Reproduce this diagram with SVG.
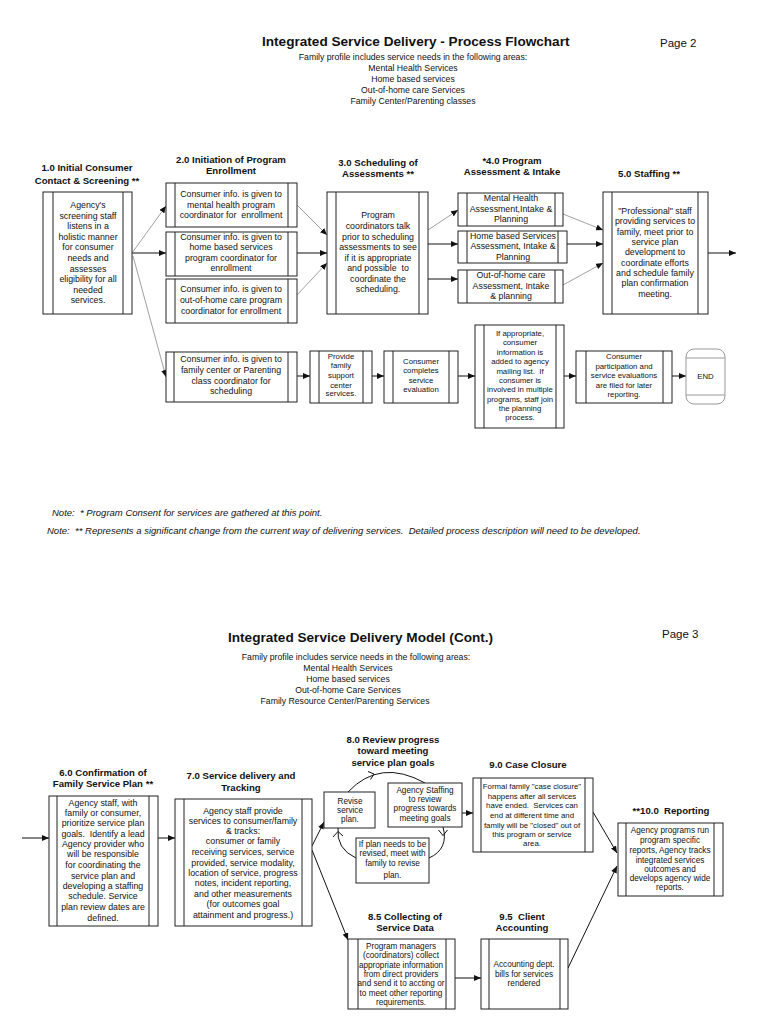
<svg xmlns="http://www.w3.org/2000/svg" width="768" height="1024" viewBox="0 0 768 1024">
<style>
text{font-family:"Liberation Sans",Arial,sans-serif;fill:#111}
.t{font-size:13.6px;font-weight:bold}
.pg{font-size:11.5px}
.sub{font-size:8.7px;text-anchor:middle}
.h{font-size:9.6px;font-weight:bold;text-anchor:middle}
.b{font-size:8.8px;text-anchor:middle}
.m{font-size:8.2px;text-anchor:middle}
.s{font-size:7.8px;text-anchor:middle}
.note{font-size:9.5px;font-style:italic}
.box{fill:#fff;stroke:#222;stroke-width:1}
.ln{fill:none;stroke:#222;stroke-width:1}
.c{fill:none;stroke:#111;stroke-width:1}
.g{fill:none;stroke:#888;stroke-width:0.8}
.end{fill:#fff;stroke:#999;stroke-width:1}
</style>
<defs>
<marker id="ah" markerWidth="7" markerHeight="6" refX="7" refY="3" orient="auto" markerUnits="userSpaceOnUse"><path d="M0,0 L7,3 L0,6 z" fill="#111"/></marker>
</defs>

<g id="header-p2">
<text class="t" x="262" y="46">Integrated Service Delivery - Process Flowchart</text>
<text class="pg" x="660" y="47">Page 2</text>
<text class="sub"><tspan x="413" y="60">Family profile includes service needs in the following areas:</tspan><tspan x="413" y="71">Mental Health Services</tspan><tspan x="413" y="82">Home based services</tspan><tspan x="413" y="93">Out-of-home care Services</tspan><tspan x="413" y="104">Family Center/Parenting classes</tspan></text>
</g>

<g id="connectors-p2">
<path class="c" d="M132,253H166" marker-end="url(#ah)"/>
<path class="g" d="M132,253L166,206" marker-end="url(#ah)"/>
<path class="g" d="M133,256L166,377" marker-end="url(#ah)"/>
<path class="g" d="M297,205L327,235" marker-end="url(#ah)"/>
<path class="c" d="M297,253H327" marker-end="url(#ah)"/>
<path class="g" d="M297,295L327,263" marker-end="url(#ah)"/>
<path class="g" d="M428,230L458,210" marker-end="url(#ah)"/>
<path class="c" d="M428,244H458" marker-end="url(#ah)"/>
<path class="c" d="M428,279H458" marker-end="url(#ah)"/>
<path class="g" d="M563,214L603,230" marker-end="url(#ah)"/>
<path class="c" d="M567,244H603" marker-end="url(#ah)"/>
<path class="g" d="M563,285L603,263" marker-end="url(#ah)"/>
<path class="c" d="M708,253H736" marker-end="url(#ah)"/>
<path class="c" d="M297,376H310" marker-end="url(#ah)"/>
<path class="c" d="M372,376H384" marker-end="url(#ah)"/>
<path class="c" d="M458,376H475" marker-end="url(#ah)"/>
<path class="c" d="M564,376H576" marker-end="url(#ah)"/>
<path class="c" d="M672,376H686" marker-end="url(#ah)"/>
</g>

<g id="n1">
<text class="h"><tspan x="87" y="170.5">1.0 Initial Consumer</tspan><tspan x="87" y="183.5">Contact &amp; Screening **</tspan></text>
<rect class="box" x="43" y="192" width="89" height="122"/>
<path class="ln" d="M53,192V314M123,192V314"/>
<text class="b"><tspan x="88" y="208">Agency's</tspan><tspan x="88" y="218.6">screening staff</tspan><tspan x="88" y="229.2">listens in a</tspan><tspan x="88" y="239.8">holistic manner</tspan><tspan x="88" y="250.4">for consumer</tspan><tspan x="88" y="261">needs and</tspan><tspan x="88" y="271.6">assesses</tspan><tspan x="88" y="282.2">eligibility for all</tspan><tspan x="88" y="292.8">needed</tspan><tspan x="88" y="303.4">services.</tspan></text>
</g>

<g id="n2">
<text class="h"><tspan x="231" y="162.5">2.0 Initiation of Program</tspan><tspan x="231" y="174">Enrollment</tspan></text>
</g>
<g id="n2a">
<rect class="box" x="166" y="183" width="131" height="44"/>
<path class="ln" d="M175,183V227M288,183V227"/>
<text class="b" xml:space="preserve"><tspan x="231" y="197">Consumer info. is given to</tspan><tspan x="231" y="207.5">mental health program</tspan><tspan x="231" y="218">coordinator for  enrollment</tspan></text>
</g>
<g id="n2b">
<rect class="box" x="166" y="232" width="131" height="44"/>
<path class="ln" d="M175,232V276M288,232V276"/>
<text class="b"><tspan x="231" y="240">Consumer info. is given to</tspan><tspan x="231" y="250.3">home based services</tspan><tspan x="231" y="260.7">program coordinator for</tspan><tspan x="231" y="271">enrollment</tspan></text>
</g>
<g id="n2c">
<rect class="box" x="166" y="279" width="131" height="44"/>
<path class="ln" d="M175,279V323M288,279V323"/>
<text class="b"><tspan x="231" y="292">Consumer info. is given to</tspan><tspan x="231" y="303">out-of-home care program</tspan><tspan x="231" y="313.7">coordinator for enrollment</tspan></text>
</g>

<g id="n3">
<text class="h"><tspan x="378" y="165.5">3.0 Scheduling of</tspan><tspan x="378" y="177">Assessments **</tspan></text>
<rect class="box" x="327" y="192" width="101" height="122"/>
<path class="ln" d="M336,192V314M419,192V314"/>
<text class="b" xml:space="preserve"><tspan x="378" y="218">Program</tspan><tspan x="378" y="229">coordinators talk</tspan><tspan x="378" y="239.7">prior to scheduling</tspan><tspan x="378" y="250.3">assessments to see</tspan><tspan x="378" y="261">if it is appropriate</tspan><tspan x="378" y="271.3">and possible  to</tspan><tspan x="378" y="281.7">coordinate the</tspan><tspan x="378" y="292.3">scheduling.</tspan></text>
</g>

<g id="n4">
<text class="h"><tspan x="512" y="163.5">*4.0 Program</tspan><tspan x="512" y="175">Assessment &amp; Intake</tspan></text>
</g>
<g id="n4a">
<rect class="box" x="458" y="193" width="105" height="33"/>
<path class="ln" d="M467,193V226M555,193V226"/>
<text class="b"><tspan x="511" y="201.3">Mental Health</tspan><tspan x="511" y="212">Assessment,Intake &amp;</tspan><tspan x="511" y="222.3">Planning</tspan></text>
</g>
<g id="n4b">
<rect class="box" x="458" y="231" width="109" height="32"/>
<path class="ln" d="M467,231V263M558,231V263"/>
<text class="b"><tspan x="513" y="239">Home based Services</tspan><tspan x="513" y="249">Assessment, Intake &amp;</tspan><tspan x="513" y="259.7">Planning</tspan></text>
</g>
<g id="n4c">
<rect class="box" x="458" y="270" width="105" height="33"/>
<path class="ln" d="M467,270V303M555,270V303"/>
<text class="b"><tspan x="511" y="278">Out-of-home care</tspan><tspan x="511" y="288.7">Assessment, Intake</tspan><tspan x="511" y="298.5">&amp; planning</tspan></text>
</g>

<g id="n5">
<text class="h" x="649" y="177">5.0 Staffing **</text>
<rect class="box" x="603" y="192" width="105" height="122"/>
<path class="ln" d="M612,192V314M698,192V314"/>
<text class="b"><tspan x="655" y="213.7">"Professional" staff</tspan><tspan x="655" y="223.7">providing services to</tspan><tspan x="655" y="234.7">family, meet prior to</tspan><tspan x="655" y="244.7">service plan</tspan><tspan x="655" y="255.3">development to</tspan><tspan x="655" y="265.7">coordinate efforts</tspan><tspan x="655" y="276.3">and schedule family</tspan><tspan x="655" y="286.3">plan confirmation</tspan><tspan x="655" y="297">meeting.</tspan></text>
</g>

<g id="nFC">
<rect class="box" x="166" y="352" width="131" height="50"/>
<path class="ln" d="M174,352V402M288,352V402"/>
<text class="b"><tspan x="231" y="362.3">Consumer info. is given to</tspan><tspan x="231" y="373">family center or Parenting</tspan><tspan x="231" y="383.7">class coordinator for</tspan><tspan x="231" y="393.7">scheduling</tspan></text>
</g>
<g id="nP">
<rect class="box" x="310" y="351" width="62" height="52"/>
<path class="ln" d="M319,351V403M363,351V403"/>
<text class="s"><tspan x="341" y="358.7">Provide</tspan><tspan x="341" y="368.4">family</tspan><tspan x="341" y="378.4">support</tspan><tspan x="341" y="387.7">center</tspan><tspan x="341" y="396.2">services.</tspan></text>
</g>
<g id="nC">
<rect class="box" x="384" y="351" width="74" height="52"/>
<path class="ln" d="M393,351V403M449,351V403"/>
<text class="s"><tspan x="421" y="364.4">Consumer</tspan><tspan x="421" y="373.4">completes</tspan><tspan x="421" y="382.7">service</tspan><tspan x="421" y="391.7">evaluation</tspan></text>
</g>
<g id="nM">
<rect class="box" x="475" y="325" width="89" height="103"/>
<path class="ln" d="M484,325V428M556,325V428"/>
<text class="s" xml:space="preserve"><tspan x="520" y="336">If appropriate,</tspan><tspan x="520" y="345.4">consumer</tspan><tspan x="520" y="355.4">information is</tspan><tspan x="520" y="364.4">added to agency</tspan><tspan x="520" y="373.7">mailing list.  If</tspan><tspan x="520" y="382.7">consumer is</tspan><tspan x="520" y="392">involved in multiple</tspan><tspan x="520" y="401.7">programs, staff join</tspan><tspan x="520" y="411">the planning</tspan><tspan x="520" y="420">process.</tspan></text>
</g>
<g id="nR">
<rect class="box" x="576" y="351" width="96" height="52"/>
<path class="ln" d="M586,351V403M663,351V403"/>
<text class="s"><tspan x="624" y="359.4">Consumer</tspan><tspan x="624" y="368.7">participation and</tspan><tspan x="624" y="378.4">service evaluations</tspan><tspan x="624" y="387.7">are filed for later</tspan><tspan x="624" y="397">reporting.</tspan></text>
</g>
<g id="nEND">
<rect class="end" x="686" y="349" width="39" height="55" rx="8"/>
<path class="end" d="M686,358H725M686,395H725"/>
<text class="s" x="705.5" y="379">END</text>
</g>

<g id="notes">
<text class="note" x="52" y="516" xml:space="preserve">Note:  * Program Consent for services are gathered at this point.</text>
<text class="note" x="47" y="534" xml:space="preserve">Note:  ** Represents a significant change from the current way of delivering services.  Detailed process description will need to be developed.</text>
</g>

<g id="header-p3">
<text class="t" x="228" y="642">Integrated Service Delivery Model (Cont.)</text>
<text class="pg" x="662" y="638">Page 3</text>
<text class="sub"><tspan x="356" y="660">Family profile includes service needs in the following areas:</tspan><tspan x="348" y="671">Mental Health Services</tspan><tspan x="348" y="682">Home based services</tspan><tspan x="348" y="693">Out-of-home Care Services</tspan><tspan x="345" y="704">Family Resource Center/Parenting Services</tspan></text>
</g>

<g id="connectors-p3">
<path class="c" d="M22,838H49" marker-end="url(#ah)"/>
<path class="c" d="M158,838H175" marker-end="url(#ah)"/>
<path class="c" d="M312,846L324,822" marker-end="url(#ah)"/>
<path class="c" d="M312,850L348,940" marker-end="url(#ah)"/>
<path class="c" d="M348,792Q380,758 425,783"/>
<path class="c" d="M368,771.5L374,774L370.5,779.5"/>
<path class="c" d="M443,827Q449,849 429,858"/>
<path class="c" d="M438.5,830L443,835.5L447.5,830"/>
<path class="c" d="M356,858Q336,849 338,828"/>
<path class="c" d="M333,837L338,831.5L343,836"/>
<path class="c" d="M462,813H473" marker-end="url(#ah)"/>
<path class="c" d="M593,812L617,853" marker-end="url(#ah)"/>
<path class="c" d="M568,968L617,866" marker-end="url(#ah)"/>
<path class="c" d="M455,978H481" marker-end="url(#ah)"/>
</g>

<g id="n6">
<text class="h"><tspan x="103" y="775.5">6.0 Confirmation of</tspan><tspan x="103" y="787">Family Service Plan **</tspan></text>
<rect class="box" x="49" y="796" width="109" height="130"/>
<path class="ln" d="M57,796V926M149,796V926"/>
<text class="b" xml:space="preserve"><tspan x="103" y="805.7">Agency staff, with</tspan><tspan x="103" y="815.7">family or consumer,</tspan><tspan x="103" y="826.3">prioritize service plan</tspan><tspan x="103" y="837">goals.  Identify a lead</tspan><tspan x="103" y="847.3">Agency provider who</tspan><tspan x="103" y="857.3">will be responsible</tspan><tspan x="103" y="868">for coordinating the</tspan><tspan x="103" y="878.7">service plan and</tspan><tspan x="103" y="889">developing a staffing</tspan><tspan x="103" y="899.3">schedule. Service</tspan><tspan x="103" y="909.7">plan review dates are</tspan><tspan x="103" y="920.7">defined.</tspan></text>
</g>

<g id="n7">
<text class="h"><tspan x="241" y="779">7.0 Service delivery and</tspan><tspan x="241" y="791">Tracking</tspan></text>
<rect class="box" x="175" y="799" width="137" height="127"/>
<path class="ln" d="M184,799V926M302,799V926"/>
<text class="b"><tspan x="243" y="814">Agency staff provide</tspan><tspan x="243" y="824">services to consumer/family</tspan><tspan x="243" y="834">&amp; tracks:</tspan><tspan x="243" y="844">consumer or family</tspan><tspan x="243" y="854.7">receiving services, service</tspan><tspan x="243" y="865.7">provided, service modality,</tspan><tspan x="243" y="875.7">location of service, progress</tspan><tspan x="243" y="886.3">notes, incident reporting,</tspan><tspan x="243" y="897">and other measurements</tspan><tspan x="243" y="907">(for outcomes goal</tspan><tspan x="243" y="918">attainment and progress.)</tspan></text>
</g>

<g id="n8">
<text class="h"><tspan x="393" y="742.5">8.0 Review progress</tspan><tspan x="393" y="754">toward meeting</tspan><tspan x="393" y="765.5">service plan goals</tspan></text>
</g>
<g id="n8-revise">
<rect class="box" x="324" y="792" width="51" height="36"/>
<text class="m"><tspan x="350" y="804">Revise</tspan><tspan x="350" y="813">service</tspan><tspan x="350" y="822">plan.</tspan></text>
</g>
<g id="n8-staffing">
<rect class="box" x="388" y="783" width="74" height="44"/>
<text class="m"><tspan x="425" y="793">Agency Staffing</tspan><tspan x="425" y="802">to review</tspan><tspan x="425" y="811.3">progress towards</tspan><tspan x="425" y="820.7">meeting goals</tspan></text>
</g>
<g id="n8-meet">
<rect class="box" x="356" y="838" width="73" height="45"/>
<text class="m"><tspan x="392.5" y="847">If plan needs to be</tspan><tspan x="392.5" y="856.3">revised, meet with</tspan><tspan x="392.5" y="866.3">family to revise</tspan><tspan x="392.5" y="878">plan.</tspan></text>
</g>

<g id="n9">
<text class="h" x="528" y="767.5">9.0 Case Closure</text>
<rect class="box" x="473" y="778" width="120" height="74"/>
<path class="ln" d="M481,778V852M585,778V852"/>
<text class="s" xml:space="preserve"><tspan x="532" y="789.4">Formal family "case closure"</tspan><tspan x="532" y="798.7">happens after all services</tspan><tspan x="532" y="808.4">have ended.  Services can</tspan><tspan x="532" y="817.7">end at different time and</tspan><tspan x="532" y="827.7">family will be "closed" out of</tspan><tspan x="532" y="836.7">this program or service</tspan><tspan x="532" y="846">area.</tspan></text>
</g>

<g id="n10">
<text class="h" x="671" y="814" xml:space="preserve">**10.0  Reporting</text>
<rect class="box" x="618" y="823" width="105" height="73"/>
<path class="ln" d="M626,823V896M714,823V896"/>
<text class="m"><tspan x="670" y="833.4">Agency programs run</tspan><tspan x="670" y="842.7">program specific</tspan><tspan x="670" y="852.7">reports, Agency tracks</tspan><tspan x="670" y="862.7">integrated services</tspan><tspan x="670" y="871.7">outcomes and</tspan><tspan x="670" y="881">develops agency wide</tspan><tspan x="670" y="889.7">reports.</tspan></text>
</g>

<g id="n85">
<text class="h"><tspan x="405" y="919.5">8.5 Collecting of</tspan><tspan x="405" y="930.5">Service Data</tspan></text>
<rect class="box" x="348" y="939" width="107" height="70"/>
<path class="ln" d="M358,939V1009M446,939V1009"/>
<text class="m"><tspan x="401" y="948.7">Program managers</tspan><tspan x="401" y="958.4">(coordinators) collect</tspan><tspan x="401" y="967.7">appropriate information</tspan><tspan x="401" y="977">from direct providers</tspan><tspan x="401" y="986.4">and send it to accting or</tspan><tspan x="401" y="995.7">to meet other reporting</tspan><tspan x="401" y="1005.4">requirements.</tspan></text>
</g>

<g id="n95">
<text class="h" xml:space="preserve"><tspan x="522" y="919.5">9.5  Client</tspan><tspan x="522" y="930.5">Accounting</tspan></text>
<rect class="box" x="481" y="939" width="87" height="70"/>
<path class="ln" d="M489,939V1009M560,939V1009"/>
<text class="m"><tspan x="524" y="967">Accounting dept.</tspan><tspan x="524" y="977">bills for services</tspan><tspan x="524" y="986">rendered</tspan></text>
</g>
</svg>
